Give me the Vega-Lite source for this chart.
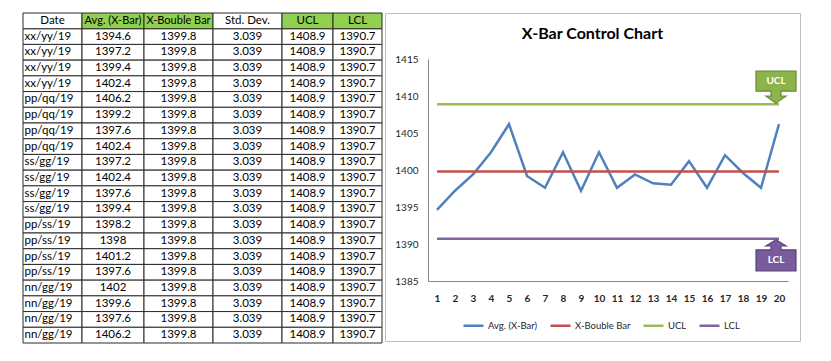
{
  "$schema": "https://vega.github.io/schema/vega-lite/v6.json",
  "background": "white",
  "padding": {"left": 22, "top": 12, "right": 0, "bottom": 0},
  "config": {"font": "Lato", "view": {"stroke": null}},
  "datasets": {
    "t": [
      {"n": 1, "date": "xx/yy/19", "avg": 1394.6, "xbb": 1399.8, "sd": 3.039, "ucl": 1408.9, "lcl": 1390.7},
      {"n": 2, "date": "xx/yy/19", "avg": 1397.2, "xbb": 1399.8, "sd": 3.039, "ucl": 1408.9, "lcl": 1390.7},
      {"n": 3, "date": "xx/yy/19", "avg": 1399.4, "xbb": 1399.8, "sd": 3.039, "ucl": 1408.9, "lcl": 1390.7},
      {"n": 4, "date": "xx/yy/19", "avg": 1402.4, "xbb": 1399.8, "sd": 3.039, "ucl": 1408.9, "lcl": 1390.7},
      {"n": 5, "date": "pp/qq/19", "avg": 1406.2, "xbb": 1399.8, "sd": 3.039, "ucl": 1408.9, "lcl": 1390.7},
      {"n": 6, "date": "pp/qq/19", "avg": 1399.2, "xbb": 1399.8, "sd": 3.039, "ucl": 1408.9, "lcl": 1390.7},
      {"n": 7, "date": "pp/qq/19", "avg": 1397.6, "xbb": 1399.8, "sd": 3.039, "ucl": 1408.9, "lcl": 1390.7},
      {"n": 8, "date": "pp/qq/19", "avg": 1402.4, "xbb": 1399.8, "sd": 3.039, "ucl": 1408.9, "lcl": 1390.7},
      {"n": 9, "date": "ss/gg/19", "avg": 1397.2, "xbb": 1399.8, "sd": 3.039, "ucl": 1408.9, "lcl": 1390.7},
      {"n": 10, "date": "ss/gg/19", "avg": 1402.4, "xbb": 1399.8, "sd": 3.039, "ucl": 1408.9, "lcl": 1390.7},
      {"n": 11, "date": "ss/gg/19", "avg": 1397.6, "xbb": 1399.8, "sd": 3.039, "ucl": 1408.9, "lcl": 1390.7},
      {"n": 12, "date": "ss/gg/19", "avg": 1399.4, "xbb": 1399.8, "sd": 3.039, "ucl": 1408.9, "lcl": 1390.7},
      {"n": 13, "date": "pp/ss/19", "avg": 1398.2, "xbb": 1399.8, "sd": 3.039, "ucl": 1408.9, "lcl": 1390.7},
      {"n": 14, "date": "pp/ss/19", "avg": 1398, "xbb": 1399.8, "sd": 3.039, "ucl": 1408.9, "lcl": 1390.7},
      {"n": 15, "date": "pp/ss/19", "avg": 1401.2, "xbb": 1399.8, "sd": 3.039, "ucl": 1408.9, "lcl": 1390.7},
      {"n": 16, "date": "pp/ss/19", "avg": 1397.6, "xbb": 1399.8, "sd": 3.039, "ucl": 1408.9, "lcl": 1390.7},
      {"n": 17, "date": "nn/gg/19", "avg": 1402, "xbb": 1399.8, "sd": 3.039, "ucl": 1408.9, "lcl": 1390.7},
      {"n": 18, "date": "nn/gg/19", "avg": 1399.6, "xbb": 1399.8, "sd": 3.039, "ucl": 1408.9, "lcl": 1390.7},
      {"n": 19, "date": "nn/gg/19", "avg": 1397.6, "xbb": 1399.8, "sd": 3.039, "ucl": 1408.9, "lcl": 1390.7},
      {"n": 20, "date": "nn/gg/19", "avg": 1406.2, "xbb": 1399.8, "sd": 3.039, "ucl": 1408.9, "lcl": 1390.7}
    ]
  },
  "bounds": "full",
  "spacing": 1,
  "hconcat": [
    {
      "bounds": "flush",
      "spacing": 0,
      "hconcat": [
        {
          "width": 59, "height": 330,
          "data": {"name": "t"},
          "encoding": {"y": {"field": "n", "type": "ordinal", "axis": null, "scale": {"domain": [0,1,2,3,4,5,6,7,8,9,10,11,12,13,14,15,16,17,18,19,20], "paddingInner": 0, "paddingOuter": 0}}},
          "layer": [
            {"mark": {"type": "rect", "fill": "white", "stroke": "#2b2b2b", "strokeWidth": 1}},
            {"transform": [{"filter": "datum.n == 1"}], "mark": {"type": "rect", "fill": "white", "stroke": "#2b2b2b", "strokeWidth": 1}, "encoding": {"y": {"datum": 0, "type": "ordinal"}}},
            {"mark": {"type": "text", "fontSize": 11.5, "color": "black", "align": "left", "dx": -28}, "encoding": {"text": {"field": "date", "type": "nominal"}}},
            {"transform": [{"filter": "datum.n == 1"}], "mark": {"type": "text", "fontSize": 11.5, "color": "black"}, "encoding": {"y": {"datum": 0, "type": "ordinal"}, "text": {"value": "Date"}}}
          ]
        },
        {
          "width": 62, "height": 330,
          "data": {"name": "t"},
          "encoding": {"y": {"field": "n", "type": "ordinal", "axis": null, "scale": {"domain": [0,1,2,3,4,5,6,7,8,9,10,11,12,13,14,15,16,17,18,19,20], "paddingInner": 0, "paddingOuter": 0}}},
          "layer": [
            {"mark": {"type": "rect", "fill": "white", "stroke": "#2b2b2b", "strokeWidth": 1}},
            {"transform": [{"filter": "datum.n == 1"}], "mark": {"type": "rect", "fill": "#92D050", "stroke": "#2b2b2b", "strokeWidth": 1}, "encoding": {"y": {"datum": 0, "type": "ordinal"}}},
            {"mark": {"type": "text", "fontSize": 11.5, "color": "black"}, "encoding": {"text": {"field": "avg", "type": "nominal"}}},
            {"transform": [{"filter": "datum.n == 1"}], "mark": {"type": "text", "fontSize": 11, "color": "black"}, "encoding": {"y": {"datum": 0, "type": "ordinal"}, "text": {"value": "Avg. (X-Bar)"}}}
          ]
        },
        {
          "width": 69, "height": 330,
          "data": {"name": "t"},
          "encoding": {"y": {"field": "n", "type": "ordinal", "axis": null, "scale": {"domain": [0,1,2,3,4,5,6,7,8,9,10,11,12,13,14,15,16,17,18,19,20], "paddingInner": 0, "paddingOuter": 0}}},
          "layer": [
            {"mark": {"type": "rect", "fill": "white", "stroke": "#2b2b2b", "strokeWidth": 1}},
            {"transform": [{"filter": "datum.n == 1"}], "mark": {"type": "rect", "fill": "#92D050", "stroke": "#2b2b2b", "strokeWidth": 1}, "encoding": {"y": {"datum": 0, "type": "ordinal"}}},
            {"mark": {"type": "text", "fontSize": 11.5, "color": "black"}, "encoding": {"text": {"field": "xbb", "type": "nominal"}}},
            {"transform": [{"filter": "datum.n == 1"}], "mark": {"type": "text", "fontSize": 11, "color": "black"}, "encoding": {"y": {"datum": 0, "type": "ordinal"}, "text": {"value": "X-Bouble Bar"}}}
          ]
        },
        {
          "width": 69, "height": 330,
          "data": {"name": "t"},
          "encoding": {"y": {"field": "n", "type": "ordinal", "axis": null, "scale": {"domain": [0,1,2,3,4,5,6,7,8,9,10,11,12,13,14,15,16,17,18,19,20], "paddingInner": 0, "paddingOuter": 0}}},
          "layer": [
            {"mark": {"type": "rect", "fill": "white", "stroke": "#2b2b2b", "strokeWidth": 1}},
            {"transform": [{"filter": "datum.n == 1"}], "mark": {"type": "rect", "fill": "white", "stroke": "#2b2b2b", "strokeWidth": 1}, "encoding": {"y": {"datum": 0, "type": "ordinal"}}},
            {"mark": {"type": "text", "fontSize": 11.5, "color": "black"}, "encoding": {"text": {"field": "sd", "type": "nominal"}}},
            {"transform": [{"filter": "datum.n == 1"}], "mark": {"type": "text", "fontSize": 11.5, "color": "black"}, "encoding": {"y": {"datum": 0, "type": "ordinal"}, "text": {"value": "Std. Dev."}}}
          ]
        },
        {
          "width": 51, "height": 330,
          "data": {"name": "t"},
          "encoding": {"y": {"field": "n", "type": "ordinal", "axis": null, "scale": {"domain": [0,1,2,3,4,5,6,7,8,9,10,11,12,13,14,15,16,17,18,19,20], "paddingInner": 0, "paddingOuter": 0}}},
          "layer": [
            {"mark": {"type": "rect", "fill": "white", "stroke": "#2b2b2b", "strokeWidth": 1}},
            {"transform": [{"filter": "datum.n == 1"}], "mark": {"type": "rect", "fill": "#92D050", "stroke": "#2b2b2b", "strokeWidth": 1}, "encoding": {"y": {"datum": 0, "type": "ordinal"}}},
            {"mark": {"type": "text", "fontSize": 11.5, "color": "black"}, "encoding": {"text": {"field": "ucl", "type": "nominal"}}},
            {"transform": [{"filter": "datum.n == 1"}], "mark": {"type": "text", "fontSize": 11.5, "color": "black"}, "encoding": {"y": {"datum": 0, "type": "ordinal"}, "text": {"value": "UCL"}}}
          ]
        },
        {
          "width": 49, "height": 330,
          "data": {"name": "t"},
          "encoding": {"y": {"field": "n", "type": "ordinal", "axis": null, "scale": {"domain": [0,1,2,3,4,5,6,7,8,9,10,11,12,13,14,15,16,17,18,19,20], "paddingInner": 0, "paddingOuter": 0}}},
          "layer": [
            {"mark": {"type": "rect", "fill": "white", "stroke": "#2b2b2b", "strokeWidth": 1}},
            {"transform": [{"filter": "datum.n == 1"}], "mark": {"type": "rect", "fill": "#92D050", "stroke": "#2b2b2b", "strokeWidth": 1}, "encoding": {"y": {"datum": 0, "type": "ordinal"}}},
            {"mark": {"type": "text", "fontSize": 11.5, "color": "black"}, "encoding": {"text": {"field": "lcl", "type": "nominal"}}},
            {"transform": [{"filter": "datum.n == 1"}], "mark": {"type": "text", "fontSize": 11.5, "color": "black"}, "encoding": {"y": {"datum": 0, "type": "ordinal"}, "text": {"value": "LCL"}}}
          ]
        }
      ]
    },
    {
      "width": 415, "height": 328,
      "view": {"stroke": "#BFBFBF", "strokeWidth": 1},
      "title": {"text": "X-Bar Control Chart", "offset": -29, "font": "Lato", "fontSize": 16, "fontWeight": "bold", "color": "black", "anchor": "middle"},
      "data": {"name": "t"},
      "encoding": {
        "x": {"field": "n", "type": "ordinal", "title": null, "scale": {"range": [43, 403]},
          "axis": {"offset": -60, "labelAngle": 0, "ticks": false, "grid": false, "domainColor": "#868686", "labelPadding": 12, "labelFontSize": 10, "labelFontWeight": "bold", "labelColor": "#262626"}}
      },
      "layer": [
        {"mark": {"type": "line", "strokeWidth": 2.5},
         "encoding": {
           "y": {"field": "avg", "type": "quantitative", "title": null, "scale": {"domain": [1385, 1415], "range": [268, 46], "zero": false, "nice": false},
             "axis": {"offset": -43, "format": "d", "values": [1385, 1390, 1395, 1400, 1405, 1410, 1415], "ticks": false, "grid": false, "domainColor": "#868686", "labelPadding": 10, "labelFontSize": 10, "labelColor": "#262626"}},
           "color": {"datum": "Avg. (X-Bar)", "type": "nominal",
             "scale": {"domain": ["Avg. (X-Bar)", "X-Bouble Bar", "UCL", "LCL"], "range": ["#4F81BD", "#C0504D", "#9BBB59", "#8064A2"]},
             "legend": {"orient": "none", "legendX": 439, "legendY": 301, "direction": "horizontal", "title": null, "symbolType": "stroke", "symbolSize": 400, "symbolStrokeWidth": 2.5, "labelFontSize": 9.5, "labelColor": "#262626", "columnPadding": 7, "labelOffset": 3}}
         }},
        {"mark": {"type": "line", "strokeWidth": 2.5},
         "encoding": {"y": {"field": "xbb", "type": "quantitative", "title": null}, "color": {"datum": "X-Bouble Bar", "type": "nominal"}}},
        {"mark": {"type": "line", "strokeWidth": 2.5},
         "encoding": {"y": {"field": "ucl", "type": "quantitative", "title": null}, "color": {"datum": "UCL", "type": "nominal"}}},
        {"mark": {"type": "line", "strokeWidth": 2.5},
         "encoding": {"y": {"field": "lcl", "type": "quantitative", "title": null}, "color": {"datum": "LCL", "type": "nominal"}}},
        {"transform": [{"filter": "datum.n == 20"}],
         "mark": {"type": "point", "shape": "M-3,-1 L-13,-8 L-8,-8 L-8,-13 L-23,-13 L-23,-33 L17,-33 L17,-13 L2,-13 L2,-8 L7,-8 Z", "size": 4, "filled": true, "fill": "#8DB34C", "stroke": "#6A8A35", "strokeWidth": 1.2, "opacity": 1},
         "encoding": {"y": {"field": "ucl", "type": "quantitative", "title": null}}},
        {"transform": [{"filter": "datum.n == 20"}],
         "mark": {"type": "text", "text": "UCL", "dx": -3, "dy": -23, "fontSize": 10, "fontWeight": "bold", "color": "white"},
         "encoding": {"y": {"field": "ucl", "type": "quantitative", "title": null}}},
        {"transform": [{"filter": "datum.n == 20"}],
         "mark": {"type": "point", "shape": "M-3,1 L-13,7 L-8,7 L-8,11 L-23,11 L-23,32 L17,32 L17,11 L2,11 L2,7 L7,7 Z", "size": 4, "filled": true, "fill": "#7A5C9E", "stroke": "#5A4478", "strokeWidth": 1.2, "opacity": 1},
         "encoding": {"y": {"field": "lcl", "type": "quantitative", "title": null}}},
        {"transform": [{"filter": "datum.n == 20"}],
         "mark": {"type": "text", "text": "LCL", "dx": -3, "dy": 21, "fontSize": 10, "fontWeight": "bold", "color": "white"},
         "encoding": {"y": {"field": "lcl", "type": "quantitative", "title": null}}}
      ]
    }
  ]
}
